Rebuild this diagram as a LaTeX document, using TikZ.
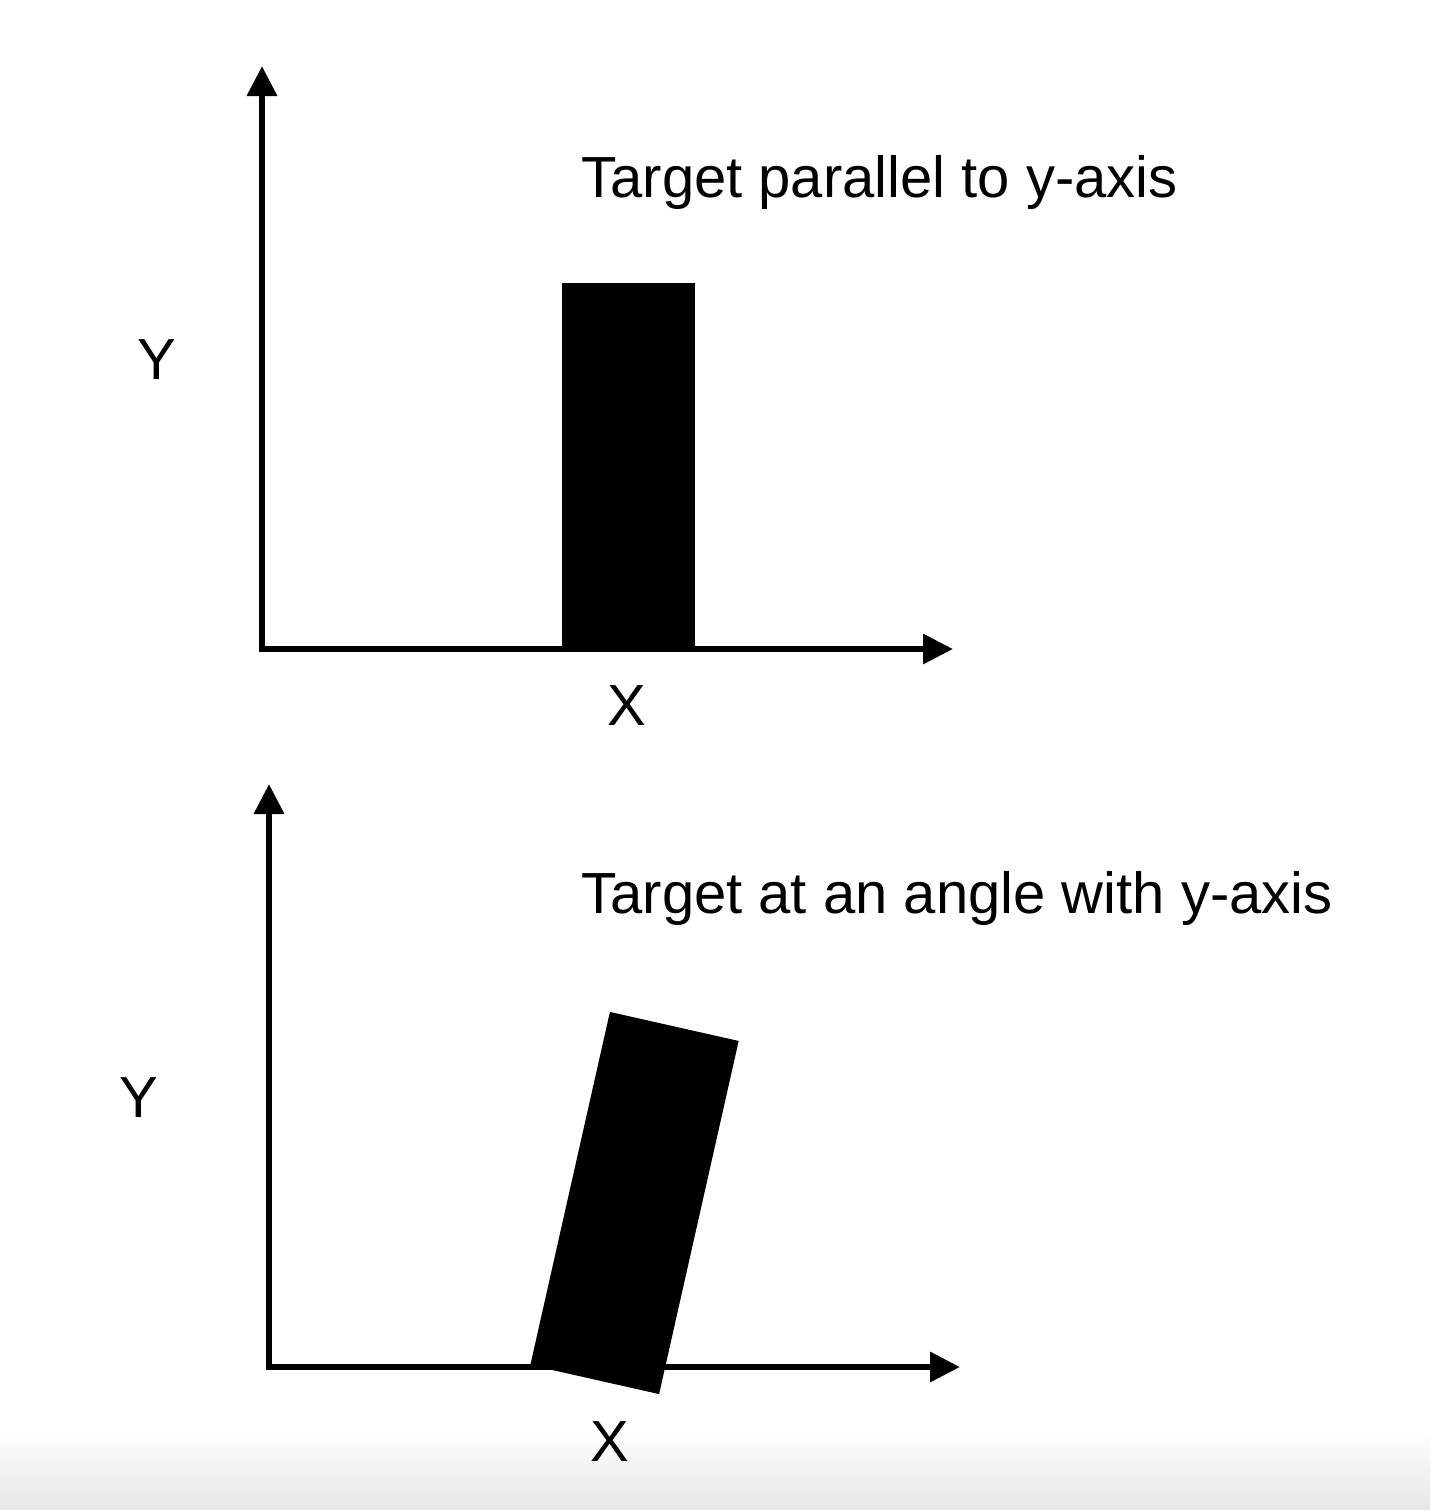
\documentclass[tikz,border=0pt]{standalone}
\usepackage{fontspec}
\setmainfont{Liberation Sans}
\usetikzlibrary{arrows.meta}

\begin{document}
\begin{tikzpicture}[x=0.5pt,y=-0.5pt,
    axis/.style={line width=3.25pt, {Triangle[length=15pt,width=14.5pt]}-{Triangle[length=15pt,width=14.5pt]}},
    target/.style={fill=black, inner sep=0pt, minimum width=66pt, minimum height=181pt},
    lbl/.style={inner sep=0pt, font=\fontsize{29}{34}\selectfont}]
    \useasboundingbox (0,0) rectangle (1430,1510);
    \shade[top color=white, bottom color=black!10] (0,1430) rectangle (1430,1510);

    % Nodes (top plot)
    \coordinate (o1) at (262,649);
    \coordinate (ytip1) at (262,66);
    \coordinate (xtip1) at (953,649);
    \node (target1) [target, minimum width=66.5pt, minimum height=183pt] at (628.5,466) {};
    \node (title1) [lbl, anchor=base west] at (581,197) {Target parallel to y-axis};
    \node (ylab1) [lbl] at (157,360) {Y};
    \node (xlab1) [lbl] at (627,706) {X};

    % Nodes (bottom plot)
    \coordinate (o2) at (269,1367);
    \coordinate (ytip2) at (269,784);
    \coordinate (xtip2) at (960,1367);
    \node (target2) [target, rotate=-12.7] at (634.5,1203) {};
    \node (title2) [lbl, anchor=base west] at (581,913) {Target at an angle with y-axis};
    \node (ylab2) [lbl] at (139,1098) {Y};
    \node (xlab2) [lbl] at (610,1442) {X};

    % Axes
    \draw[axis] (ytip1) -- (o1) -- (xtip1);
    \draw[axis] (ytip2) -- (o2) -- (xtip2);
\end{tikzpicture}
\end{document}
